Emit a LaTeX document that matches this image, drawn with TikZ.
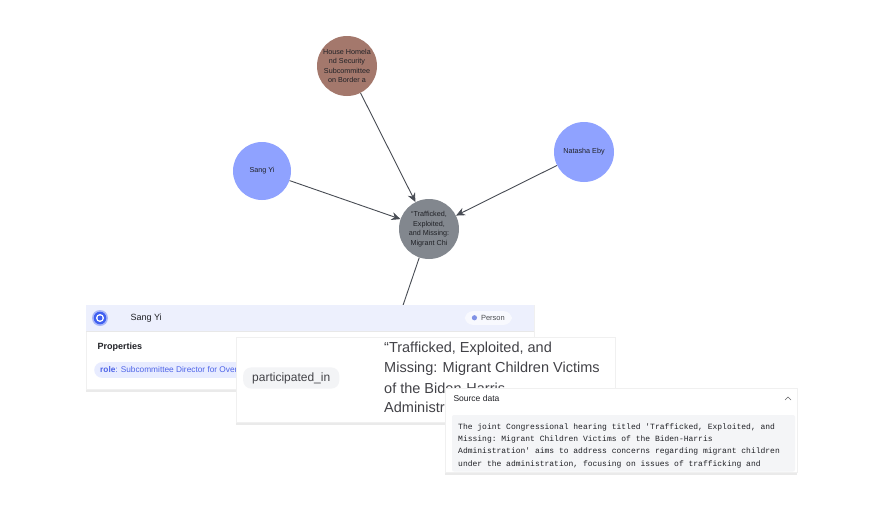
\documentclass[tikz,border=0pt]{standalone}
\usepackage{fontspec}
\setmainfont{Liberation Sans}
\setmonofont{Liberation Mono}
\usetikzlibrary{arrows.meta,shadows}

\definecolor{personblue}{RGB}{143,162,255}
\definecolor{orgbrown}{RGB}{164,120,108}
\definecolor{eventgray}{RGB}{130,135,142}
\definecolor{edgegray}{RGB}{72,76,84}
\definecolor{headerbg}{RGB}{237,240,253}
\definecolor{pillgray}{RGB}{243,244,246}
\definecolor{rolebg}{RGB}{232,236,255}
\definecolor{roleblue}{RGB}{78,100,232}
\definecolor{iconblue}{RGB}{64,96,240}
\definecolor{codebg}{RGB}{244,245,247}
\definecolor{inkdark}{RGB}{32,33,38}

\tikzset{
  graphnode/.style={circle, minimum size=60pt, inner sep=0pt, align=center,
    text=inkdark, font=\fontsize{7.2}{9.6}\selectfont},
  edge/.style={draw=edgegray, line width=0.9pt, -{Stealth[length=9pt,width=8pt]}},
  panel/.style={draw=gray!12, fill=white,
    drop shadow={opacity=0.16, shadow xshift=0pt, shadow yshift=-2.5pt}},
  pill/.style={rounded corners=8pt, inner xsep=8pt, inner ysep=4pt},
  reltext/.style={anchor=west, inner sep=0pt, text=inkdark!85, font=\fontsize{14.5}{17}\selectfont}
}

\begin{document}
\begin{tikzpicture}[x=1pt,y=-1pt,>=Stealth]

    % --- Canvas ---
    \fill[white] (0,0) rectangle (876,520);
    \useasboundingbox (0,0) rectangle (876,520);

    % --- Graph nodes ---
    \node[graphnode, fill=orgbrown] (nHouse) at (347,66)
        {House Homela\\nd Security\\Subcommittee\\on Border a};
    \node[graphnode, fill=personblue, minimum size=58pt] (nSang) at (262,171) {Sang Yi};
    \node[graphnode, fill=personblue] (nNatasha) at (584,152) {Natasha Eby};
    \node[graphnode, fill=eventgray] (nHearing) at (429,229)
        {“Trafficked,\\Exploited,\\and Missing:\\Migrant Chi};
    \coordinate (hiddenEnd) at (398,320);

    % --- Edges ---
    \draw[edge] (nHouse) -- (nHearing);
    \draw[edge] (nSang) -- (nHearing);
    \draw[edge] (nNatasha) -- (nHearing);
    \draw[draw=edgegray, line width=0.9pt] (nHearing) -- (hiddenEnd);

    % --- Entity card ---
    \path[panel] (86,305) rectangle (534,389);
    \fill[headerbg] (86.3,305.3) rectangle (533.7,331);
    \draw[gray!18] (86.3,331) -- (533.7,331);
    \fill[iconblue!45] (100,318) circle (8);
    \fill[iconblue] (100,318) circle (6.3);
    \fill[white] (100,318) circle (4);
    \fill[iconblue] (100,318) circle (2.5);
    \node[anchor=west, text=inkdark, font=\fontsize{9}{11}\selectfont] (cardTitle) at (127,318) {Sang Yi};
    \node[pill, fill=white!60!headerbg, font=\fontsize{7.5}{9}\selectfont, text=inkdark!80,
        anchor=east, inner xsep=7pt] (typePill) at (512,318)
        {\textcolor{personblue!90!black}{\raisebox{0.4pt}{\tikz\fill (0,0) circle (2.6pt);}}\hspace{4pt}Person};
    \node[anchor=west, text=inkdark, font=\bfseries\fontsize{9}{11}\selectfont] (propTitle) at (94,347) {Properties};
    \node[pill, fill=rolebg, anchor=west, inner xsep=6pt, text=roleblue,
        font=\fontsize{8.3}{9}\selectfont] (rolePill) at (94,370)
        {\textbf{role}: Subcommittee Director for Oversight};

    % --- Relation card ---
    \path[panel] (236,337) rectangle (615,422);
    \node[pill, fill=pillgray, anchor=west, inner xsep=9pt, inner ysep=5pt, text=inkdark!85,
        font=\fontsize{12}{14}\selectfont] (relPill) at (243,378) {participated\_in};
    \node[reltext] (relLine1) at (384,349) {“Trafficked, Exploited, and};
    \node[reltext] (relLine2) at (384,368.5) {Missing: Migrant Children Victims};
    \node[reltext] (relLine3) at (384,388) {of the Biden-Harris};
    \node[reltext] (relLine4) at (384,407.5) {Administr};

    % --- Source card ---
    \path[panel] (445,388) rectangle (797,472);
    \node[anchor=west, text=inkdark, font=\fontsize{8.5}{10}\selectfont] (srcTitle) at (450,398) {Source data};
    \draw[inkdark!70, line width=0.6pt] (785,400) -- (788,397) -- (791,400);
    \fill[codebg, rounded corners=2pt] (452,415) rectangle (795,471.5);
    \node[anchor=north west, align=left, inner sep=0pt, text=inkdark,
        font=\ttfamily\fontsize{8}{12.4}\selectfont] (srcText) at (458,423)
        {The joint Congressional hearing titled 'Trafficked, Exploited, and\\
         Missing: Migrant Children Victims of the Biden-Harris\\
         Administration' aims to address concerns regarding migrant children\\
         under the administration, focusing on issues of trafficking and};

\end{tikzpicture}
\end{document}
